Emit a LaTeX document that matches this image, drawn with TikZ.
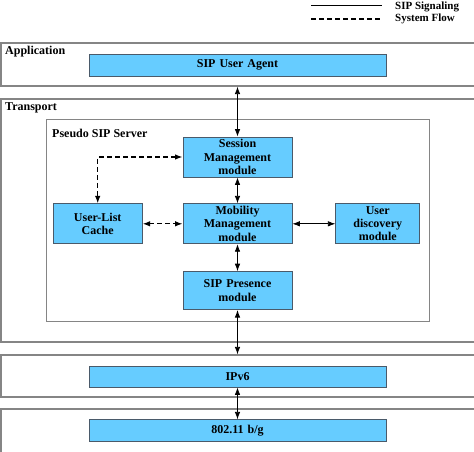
\documentclass[tikz,border=0pt]{standalone}
\usepackage{fontspec}
\setmainfont{Liberation Serif}
\usetikzlibrary{positioning,arrows.meta}
\definecolor{modblue}{HTML}{66CCFF}
\definecolor{modedge}{HTML}{4A5A6A}
\definecolor{edgegray}{HTML}{858585}
\begin{document}
\begin{tikzpicture}[
    x=1pt, y=-1pt,
    node distance=26pt and 40pt,
    module/.style={rectangle, draw=modedge, fill=modblue, line width=0.8pt, minimum height=40pt, text width=#1, inner xsep=0pt, inner ysep=0pt, align=center, font=\fontsize{12}{13.3}\selectfont\bfseries},
    module/.default=109pt,
    layer/.style={rectangle, draw=edgegray, line width=1.2pt, inner sep=0pt, minimum width=477pt},
    lbl/.style={anchor=base west, inner sep=0pt, font=\fontsize{12}{13}\selectfont\bfseries},
    keylbl/.style={lbl, font=\fontsize{11}{12}\selectfont\bfseries},
    tip/.style={{Latex[length=7.5pt,width=5.5pt]}-{Latex[length=7.5pt,width=5.5pt]}},
    sig/.style={tip, line width=0.8pt},
    dashline/.style={dash pattern=on 5pt off 3pt, line width=1.3pt},
    flow/.style={tip, dashline}
]
    \useasboundingbox (0,0) rectangle (474,451);
    \node[layer, minimum height=43pt] (app) at (239.5,64.5) {};
    \node[layer, minimum height=243pt] (trans) at (239.5,220.5) {};
    \node[layer, minimum height=42pt] (net) at (239.5,376) {};
    \node[layer, minimum height=46pt] (phy) at (239.5,432) {};
    \node[rectangle, draw=edgegray, line width=0.8pt, minimum width=383pt, minimum height=202pt] (server) at (237.5,220) {};

    \node[lbl] (applbl) at (5,54.5) {Application};
    \node[lbl] (translbl) at (5,110.5) {Transport};
    \node[lbl] (srvlbl) at (52,137.5) {Pseudo SIP Server};

    \coordinate (sigA) at (311,5.5);
    \coordinate (sigB) at (382,5.5);
    \coordinate (flowA) at (311,19);
    \coordinate (flowB) at (382,19);
    \draw[line width=0.8pt] (sigA) -- (sigB);
    \draw[dashline] (flowA) -- (flowB);
    \node[keylbl] (siglbl) at (395,9.5) {SIP Signaling};
    \node[keylbl] (flowlbl) at (395,21.5) {System Flow};

    \node[module=297pt, minimum height=22pt] (ua) at (237.5,65) {SIP User Agent};
    \node[module] (sess) at (237.5,157) {Session\\Management\\module};
    \node[module, below=of sess] (mob) {Mobility\\Management\\module};
    \node[module=89pt, left=of mob] (cache) {User-List\\Cache};
    \node[module=84pt, right=43pt of mob] (disc) {User\\discovery\\module};
    \node[module, minimum height=38pt, below=27pt of mob] (pres) {SIP Presence\\module};
    \node[module=297pt, minimum height=21pt] (ipv6) at (237.5,376.5) {IPv6};
    \node[module=297pt, minimum height=22pt, below=32pt of ipv6] (wifi) {802.11 b/g};

    \draw[sig] (app.south -| sess.north) -- (sess.north);
    \draw[sig] (sess) -- (mob);
    \draw[sig] (mob) -- (disc);
    \draw[sig] (mob) -- (pres);
    \draw[sig] (pres) -- (net.north -| pres.south);
    \draw[sig] (ipv6) -- (wifi);
    \draw[flow] (sess.west) -| (cache.north);
    \draw[flow] (cache) -- (mob);
\end{tikzpicture}
\end{document}
